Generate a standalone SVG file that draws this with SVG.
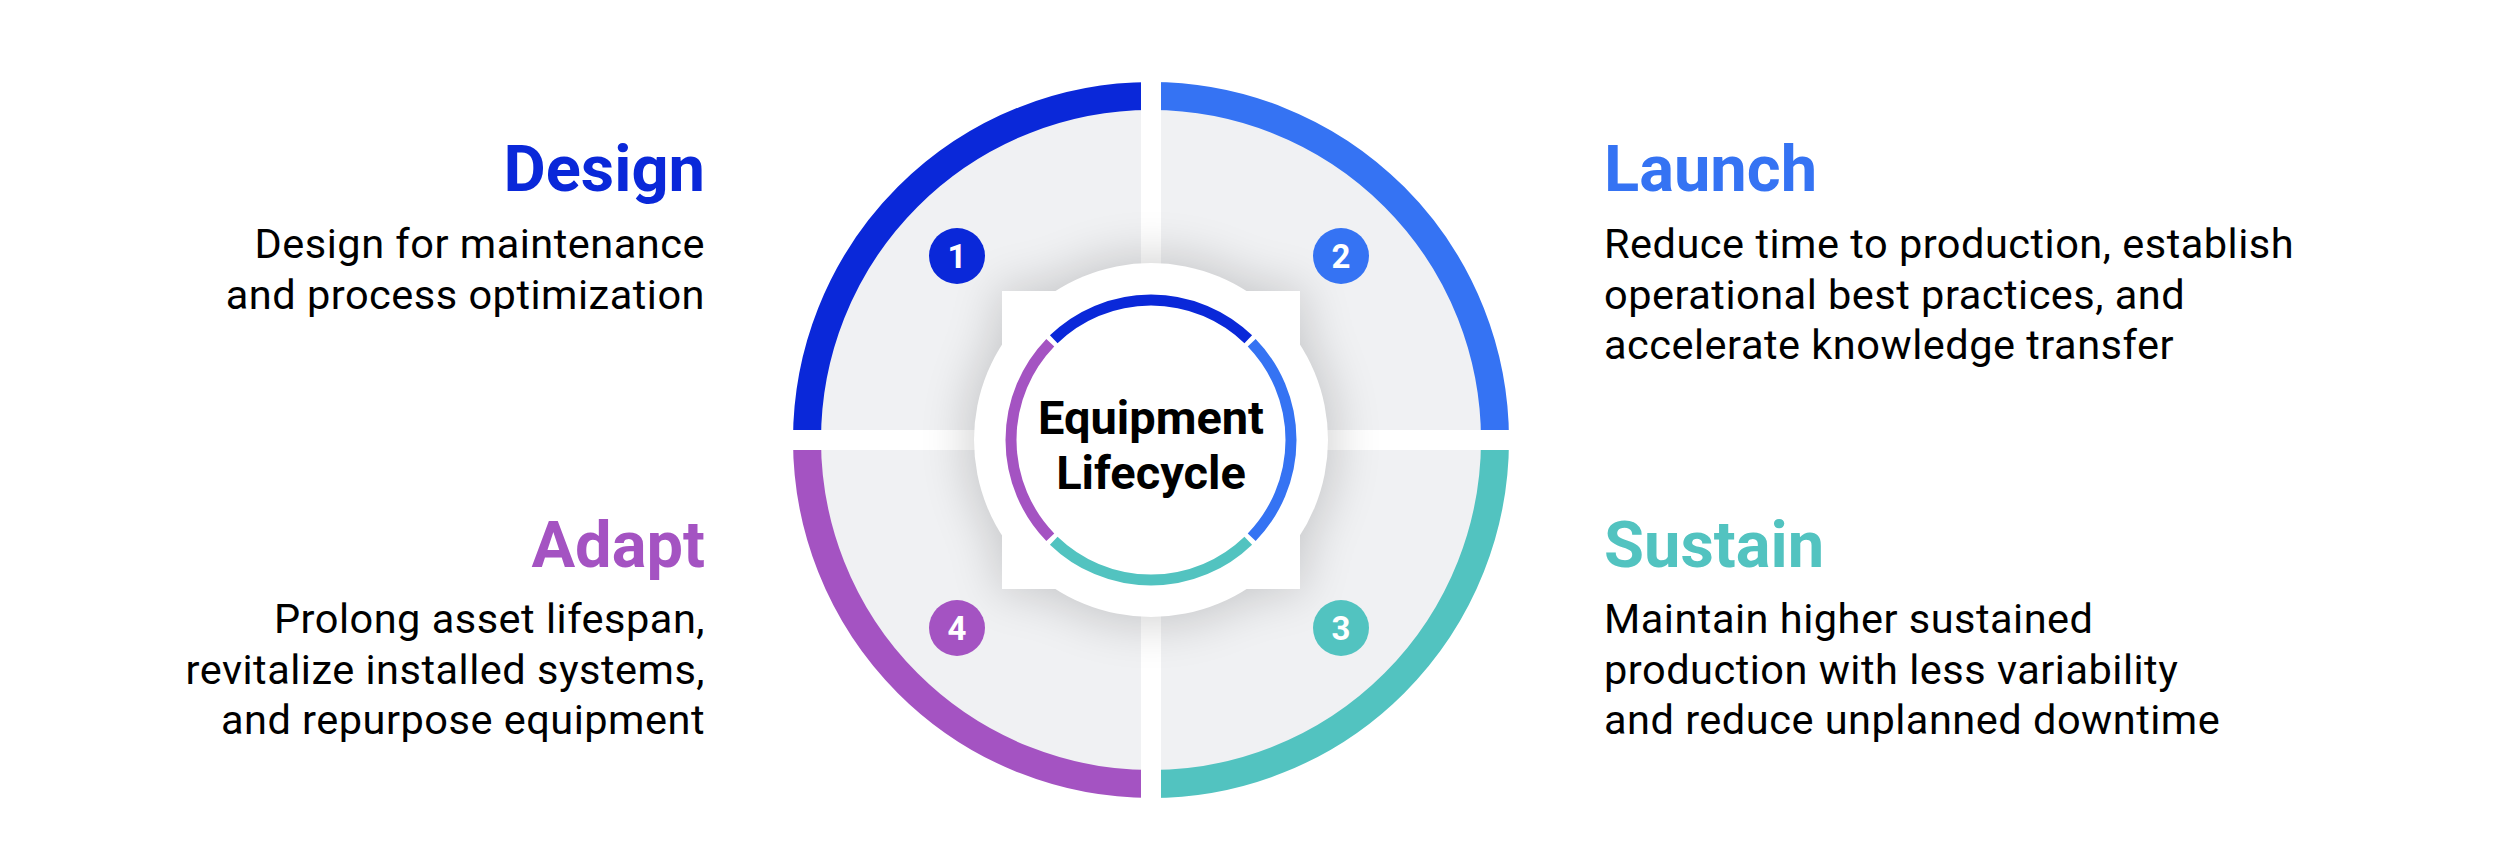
<svg xmlns="http://www.w3.org/2000/svg" width="2500" height="855" viewBox="0 0 2500 855">
  <defs>
    <style>
      .title { font-family: Roboto, "Liberation Sans", sans-serif; font-weight: 700; font-size: 65px; }
      .body { font-family: Roboto, "Liberation Sans", sans-serif; font-weight: 400; font-size: 41.5px; letter-spacing: 0.5px; fill: #000000; }
      .num { font-family: Roboto, "Liberation Sans", sans-serif; font-weight: 700; font-size: 33px; fill: #ffffff; text-anchor: middle; }
      .center { font-family: Roboto, "Liberation Sans", sans-serif; font-weight: 700; font-size: 47px; fill: #000000; text-anchor: middle; }
      .arc { fill: none; stroke-width: 28; stroke-linecap: butt; }
      .ring { fill: none; stroke-width: 11; stroke-linecap: butt; }
      .c1 { fill: #0A28D9; } .s1 { stroke: #0A28D9; }
      .c2 { fill: #3573F3; } .s2 { stroke: #3573F3; }
      .c3 { fill: #52C3C0; } .s3 { stroke: #52C3C0; }
      .c4 { fill: #A453C2; } .s4 { stroke: #A453C2; }
    </style>
    <filter id="shadow" x="-50%" y="-50%" width="200%" height="200%">
      <feGaussianBlur stdDeviation="24"/>
    </filter>
  </defs>
  <rect x="0" y="0" width="2500" height="855" fill="#ffffff"/>

  <g id="wheel">
    <circle cx="1151" cy="440" r="331" fill="#F0F1F3"/>
    <path class="arc s1" d="M 807 440 A 344 344 0 0 1 1151 96"/>
    <path class="arc s2" d="M 1151 96 A 344 344 0 0 1 1495 440"/>
    <path class="arc s3" d="M 1495 440 A 344 344 0 0 1 1151 784"/>
    <path class="arc s4" d="M 1151 784 A 344 344 0 0 1 807 440"/>
    <rect x="1141" y="70" width="20" height="740" fill="#ffffff"/>
    <rect x="780" y="430" width="742" height="20" fill="#ffffff"/>
  </g>

  <g id="hub">
    <g filter="url(#shadow)" opacity="0.17">
      <circle cx="1151" cy="440" r="185" fill="#000000"/>
      <rect x="998" y="287" width="306" height="306" fill="#000000"/>
    </g>
    <circle cx="1151" cy="440" r="177" fill="#ffffff"/>
    <rect x="1002" y="291" width="298" height="298" fill="#ffffff"/>
    <path class="ring s1" d="M 1053.74 339.30 A 140 140 0 0 1 1248.26 339.30"/>
    <path class="ring s2" d="M 1251.70 342.74 A 140 140 0 0 1 1251.70 537.26"/>
    <path class="ring s3" d="M 1248.26 540.70 A 140 140 0 0 1 1053.74 540.70"/>
    <path class="ring s4" d="M 1050.30 537.26 A 140 140 0 0 1 1050.30 342.74"/>
    <text class="center" x="1151" y="434">Equipment</text>
    <text class="center" x="1151" y="489">Lifecycle</text>
  </g>

  <g id="badge-1">
    <circle class="c1" cx="957" cy="256" r="28"/>
    <text class="num" x="957" y="267.5">1</text>
  </g>
  <g id="badge-2">
    <circle class="c2" cx="1341" cy="256" r="28"/>
    <text class="num" x="1341" y="267.5">2</text>
  </g>
  <g id="badge-3">
    <circle class="c3" cx="1341" cy="628" r="28"/>
    <text class="num" x="1341" y="639.5">3</text>
  </g>
  <g id="badge-4">
    <circle class="c4" cx="957" cy="628" r="28"/>
    <text class="num" x="957" y="639.5">4</text>
  </g>

  <g id="design" text-anchor="end">
    <text class="title c1" x="705" y="191">Design</text>
    <text class="body" x="705" y="258">Design for maintenance</text>
    <text class="body" x="705" y="308.7">and process optimization</text>
  </g>

  <g id="launch" text-anchor="start">
    <text class="title c2" x="1604" y="191">Launch</text>
    <text class="body" x="1604" y="258">Reduce time to production, establish</text>
    <text class="body" x="1604" y="308.7">operational best practices, and</text>
    <text class="body" x="1604" y="359.4">accelerate knowledge transfer</text>
  </g>

  <g id="adapt" text-anchor="end">
    <text class="title c4" x="705" y="567">Adapt</text>
    <text class="body" x="705" y="633">Prolong asset lifespan,</text>
    <text class="body" x="705" y="683.7">revitalize installed systems,</text>
    <text class="body" x="705" y="734.4">and repurpose equipment</text>
  </g>

  <g id="sustain" text-anchor="start">
    <text class="title c3" x="1604" y="567">Sustain</text>
    <text class="body" x="1604" y="633">Maintain higher sustained</text>
    <text class="body" x="1604" y="683.7">production with less variability</text>
    <text class="body" x="1604" y="734.4">and reduce unplanned downtime</text>
  </g>

  <g id="connectors"></g>
</svg>
